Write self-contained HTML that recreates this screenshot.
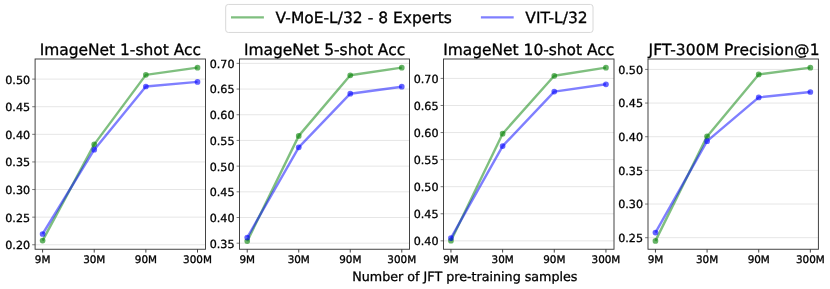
<!DOCTYPE html>
<html lang="en"><head><meta charset="utf-8"><title>V-MoE vs ViT few-shot</title>
<style>html,body{margin:0;padding:0;background:#fff;}text{stroke:#000;stroke-width:0.32px;text-rendering:geometricPrecision;}body{width:830px;height:289px;overflow:hidden;}</style>
</head><body>
<svg width="830" height="289" viewBox="0 0 830 289" style="display:block;font-family:'DejaVu Sans', 'Liberation Sans', sans-serif">
<rect width="830" height="289" fill="#fff"/>
<rect x="225.7" y="4.45" width="367.3" height="28.0" rx="2.6" fill="#fff" stroke="#d8d8d8" stroke-width="1"/>
<line x1="231" y1="17.4" x2="263.9" y2="17.4" stroke="#008000" stroke-opacity="0.5" stroke-width="2.4"/>
<text x="275.60" y="22.90" font-size="15.5">V-MoE-L/32 - 8 Experts</text>
<line x1="480.9" y1="17.4" x2="513.7" y2="17.4" stroke="#0000ff" stroke-opacity="0.5" stroke-width="2.4"/>
<text x="525.30" y="22.90" font-size="15.5">VIT-L/32</text>
<g>
<line x1="35.10" y1="79.12" x2="205.50" y2="79.12" stroke="#e6e6e6" stroke-width="1.0"/>
<line x1="35.10" y1="106.73" x2="205.50" y2="106.73" stroke="#e6e6e6" stroke-width="1.0"/>
<line x1="35.10" y1="134.33" x2="205.50" y2="134.33" stroke="#e6e6e6" stroke-width="1.0"/>
<line x1="35.10" y1="161.94" x2="205.50" y2="161.94" stroke="#e6e6e6" stroke-width="1.0"/>
<line x1="35.10" y1="189.54" x2="205.50" y2="189.54" stroke="#e6e6e6" stroke-width="1.0"/>
<line x1="35.10" y1="217.15" x2="205.50" y2="217.15" stroke="#e6e6e6" stroke-width="1.0"/>
<line x1="35.10" y1="244.75" x2="205.50" y2="244.75" stroke="#e6e6e6" stroke-width="1.0"/>
<polyline points="42.60,240.60 94.23,144.40 145.87,74.85 197.50,67.65" fill="none" stroke="#008000" stroke-opacity="0.5" stroke-width="2.4" stroke-linejoin="round"/>
<circle cx="42.60" cy="240.60" r="2.85" fill="#008000" fill-opacity="0.6"/>
<circle cx="94.23" cy="144.40" r="2.85" fill="#008000" fill-opacity="0.6"/>
<circle cx="145.87" cy="74.85" r="2.85" fill="#008000" fill-opacity="0.6"/>
<circle cx="197.50" cy="67.65" r="2.85" fill="#008000" fill-opacity="0.6"/>
<polyline points="42.60,234.00 94.23,149.70 145.87,86.50 197.50,81.90" fill="none" stroke="#0000ff" stroke-opacity="0.5" stroke-width="2.4" stroke-linejoin="round"/>
<circle cx="42.60" cy="234.00" r="2.85" fill="#0000ff" fill-opacity="0.6"/>
<circle cx="94.23" cy="149.70" r="2.85" fill="#0000ff" fill-opacity="0.6"/>
<circle cx="145.87" cy="86.50" r="2.85" fill="#0000ff" fill-opacity="0.6"/>
<circle cx="197.50" cy="81.90" r="2.85" fill="#0000ff" fill-opacity="0.6"/>
<rect x="35.10" y="59.0" width="170.4" height="190.25" fill="none" stroke="#3a3a3a" stroke-width="0.95"/>
<line x1="32.20" y1="79.12" x2="35.10" y2="79.12" stroke="#3a3a3a" stroke-width="0.85" stroke-opacity="0.8"/>
<text x="30.10" y="84.00" font-size="11.15" text-anchor="end">0.50</text>
<line x1="32.20" y1="106.73" x2="35.10" y2="106.73" stroke="#3a3a3a" stroke-width="0.85" stroke-opacity="0.8"/>
<text x="30.10" y="111.00" font-size="11.15" text-anchor="end">0.45</text>
<line x1="32.20" y1="134.33" x2="35.10" y2="134.33" stroke="#3a3a3a" stroke-width="0.85" stroke-opacity="0.8"/>
<text x="30.10" y="139.00" font-size="11.15" text-anchor="end">0.40</text>
<line x1="32.20" y1="161.94" x2="35.10" y2="161.94" stroke="#3a3a3a" stroke-width="0.85" stroke-opacity="0.8"/>
<text x="30.10" y="166.00" font-size="11.15" text-anchor="end">0.35</text>
<line x1="32.20" y1="189.54" x2="35.10" y2="189.54" stroke="#3a3a3a" stroke-width="0.85" stroke-opacity="0.8"/>
<text x="30.10" y="194.00" font-size="11.15" text-anchor="end">0.30</text>
<line x1="32.20" y1="217.15" x2="35.10" y2="217.15" stroke="#3a3a3a" stroke-width="0.85" stroke-opacity="0.8"/>
<text x="30.10" y="222.00" font-size="11.15" text-anchor="end">0.25</text>
<line x1="32.20" y1="244.75" x2="35.10" y2="244.75" stroke="#3a3a3a" stroke-width="0.85" stroke-opacity="0.8"/>
<text x="30.10" y="249.00" font-size="11.15" text-anchor="end">0.20</text>
<line x1="42.60" y1="249.25" x2="42.60" y2="252.55" stroke="#3a3a3a" stroke-width="0.95"/>
<text x="42.60" y="263.00" font-size="10.4" text-anchor="middle">9M</text>
<line x1="94.23" y1="249.25" x2="94.23" y2="252.55" stroke="#3a3a3a" stroke-width="0.95"/>
<text x="94.23" y="263.00" font-size="10.4" text-anchor="middle">30M</text>
<line x1="145.87" y1="249.25" x2="145.87" y2="252.55" stroke="#3a3a3a" stroke-width="0.95"/>
<text x="145.87" y="263.00" font-size="10.4" text-anchor="middle">90M</text>
<line x1="197.50" y1="249.25" x2="197.50" y2="252.55" stroke="#3a3a3a" stroke-width="0.95"/>
<text x="197.50" y="263.00" font-size="10.4" text-anchor="middle">300M</text>
<text x="120.30" y="55.00" font-size="15.45" text-anchor="middle">ImageNet 1-shot Acc</text>
</g>
<g>
<line x1="239.50" y1="63.36" x2="409.50" y2="63.36" stroke="#e6e6e6" stroke-width="1.0"/>
<line x1="239.50" y1="89.05" x2="409.50" y2="89.05" stroke="#e6e6e6" stroke-width="1.0"/>
<line x1="239.50" y1="114.74" x2="409.50" y2="114.74" stroke="#e6e6e6" stroke-width="1.0"/>
<line x1="239.50" y1="140.43" x2="409.50" y2="140.43" stroke="#e6e6e6" stroke-width="1.0"/>
<line x1="239.50" y1="166.13" x2="409.50" y2="166.13" stroke="#e6e6e6" stroke-width="1.0"/>
<line x1="239.50" y1="191.82" x2="409.50" y2="191.82" stroke="#e6e6e6" stroke-width="1.0"/>
<line x1="239.50" y1="217.51" x2="409.50" y2="217.51" stroke="#e6e6e6" stroke-width="1.0"/>
<line x1="239.50" y1="243.20" x2="409.50" y2="243.20" stroke="#e6e6e6" stroke-width="1.0"/>
<polyline points="247.23,241.10 298.74,135.90 350.26,75.30 401.77,67.65" fill="none" stroke="#008000" stroke-opacity="0.5" stroke-width="2.4" stroke-linejoin="round"/>
<circle cx="247.23" cy="241.10" r="2.85" fill="#008000" fill-opacity="0.6"/>
<circle cx="298.74" cy="135.90" r="2.85" fill="#008000" fill-opacity="0.6"/>
<circle cx="350.26" cy="75.30" r="2.85" fill="#008000" fill-opacity="0.6"/>
<circle cx="401.77" cy="67.65" r="2.85" fill="#008000" fill-opacity="0.6"/>
<polyline points="247.23,237.50 298.74,147.30 350.26,93.70 401.77,86.70" fill="none" stroke="#0000ff" stroke-opacity="0.5" stroke-width="2.4" stroke-linejoin="round"/>
<circle cx="247.23" cy="237.50" r="2.85" fill="#0000ff" fill-opacity="0.6"/>
<circle cx="298.74" cy="147.30" r="2.85" fill="#0000ff" fill-opacity="0.6"/>
<circle cx="350.26" cy="93.70" r="2.85" fill="#0000ff" fill-opacity="0.6"/>
<circle cx="401.77" cy="86.70" r="2.85" fill="#0000ff" fill-opacity="0.6"/>
<rect x="239.50" y="59.0" width="170.0" height="190.25" fill="none" stroke="#3a3a3a" stroke-width="0.95"/>
<line x1="236.60" y1="63.36" x2="239.50" y2="63.36" stroke="#3a3a3a" stroke-width="0.85" stroke-opacity="0.8"/>
<text x="234.50" y="68.00" font-size="11.15" text-anchor="end">0.70</text>
<line x1="236.60" y1="89.05" x2="239.50" y2="89.05" stroke="#3a3a3a" stroke-width="0.85" stroke-opacity="0.8"/>
<text x="234.50" y="93.00" font-size="11.15" text-anchor="end">0.65</text>
<line x1="236.60" y1="114.74" x2="239.50" y2="114.74" stroke="#3a3a3a" stroke-width="0.85" stroke-opacity="0.8"/>
<text x="234.50" y="119.00" font-size="11.15" text-anchor="end">0.60</text>
<line x1="236.60" y1="140.43" x2="239.50" y2="140.43" stroke="#3a3a3a" stroke-width="0.85" stroke-opacity="0.8"/>
<text x="234.50" y="145.00" font-size="11.15" text-anchor="end">0.55</text>
<line x1="236.60" y1="166.13" x2="239.50" y2="166.13" stroke="#3a3a3a" stroke-width="0.85" stroke-opacity="0.8"/>
<text x="234.50" y="171.00" font-size="11.15" text-anchor="end">0.50</text>
<line x1="236.60" y1="191.82" x2="239.50" y2="191.82" stroke="#3a3a3a" stroke-width="0.85" stroke-opacity="0.8"/>
<text x="234.50" y="196.00" font-size="11.15" text-anchor="end">0.45</text>
<line x1="236.60" y1="217.51" x2="239.50" y2="217.51" stroke="#3a3a3a" stroke-width="0.85" stroke-opacity="0.8"/>
<text x="234.50" y="222.00" font-size="11.15" text-anchor="end">0.40</text>
<line x1="236.60" y1="243.20" x2="239.50" y2="243.20" stroke="#3a3a3a" stroke-width="0.85" stroke-opacity="0.8"/>
<text x="234.50" y="248.00" font-size="11.15" text-anchor="end">0.35</text>
<line x1="247.23" y1="249.25" x2="247.23" y2="252.55" stroke="#3a3a3a" stroke-width="0.95"/>
<text x="247.23" y="263.00" font-size="10.4" text-anchor="middle">9M</text>
<line x1="298.74" y1="249.25" x2="298.74" y2="252.55" stroke="#3a3a3a" stroke-width="0.95"/>
<text x="298.74" y="263.00" font-size="10.4" text-anchor="middle">30M</text>
<line x1="350.26" y1="249.25" x2="350.26" y2="252.55" stroke="#3a3a3a" stroke-width="0.95"/>
<text x="350.26" y="263.00" font-size="10.4" text-anchor="middle">90M</text>
<line x1="401.77" y1="249.25" x2="401.77" y2="252.55" stroke="#3a3a3a" stroke-width="0.95"/>
<text x="401.77" y="263.00" font-size="10.4" text-anchor="middle">300M</text>
<text x="324.50" y="55.00" font-size="15.45" text-anchor="middle">ImageNet 5-shot Acc</text>
</g>
<g>
<line x1="443.50" y1="78.40" x2="614.00" y2="78.40" stroke="#e6e6e6" stroke-width="1.0"/>
<line x1="443.50" y1="105.48" x2="614.00" y2="105.48" stroke="#e6e6e6" stroke-width="1.0"/>
<line x1="443.50" y1="132.55" x2="614.00" y2="132.55" stroke="#e6e6e6" stroke-width="1.0"/>
<line x1="443.50" y1="159.62" x2="614.00" y2="159.62" stroke="#e6e6e6" stroke-width="1.0"/>
<line x1="443.50" y1="186.70" x2="614.00" y2="186.70" stroke="#e6e6e6" stroke-width="1.0"/>
<line x1="443.50" y1="213.78" x2="614.00" y2="213.78" stroke="#e6e6e6" stroke-width="1.0"/>
<line x1="443.50" y1="240.85" x2="614.00" y2="240.85" stroke="#e6e6e6" stroke-width="1.0"/>
<polyline points="450.95,240.70 502.62,133.70 554.28,75.80 605.95,67.65" fill="none" stroke="#008000" stroke-opacity="0.5" stroke-width="2.4" stroke-linejoin="round"/>
<circle cx="450.95" cy="240.70" r="2.85" fill="#008000" fill-opacity="0.6"/>
<circle cx="502.62" cy="133.70" r="2.85" fill="#008000" fill-opacity="0.6"/>
<circle cx="554.28" cy="75.80" r="2.85" fill="#008000" fill-opacity="0.6"/>
<circle cx="605.95" cy="67.65" r="2.85" fill="#008000" fill-opacity="0.6"/>
<polyline points="450.95,238.10 502.62,146.10 554.28,91.60 605.95,84.30" fill="none" stroke="#0000ff" stroke-opacity="0.5" stroke-width="2.4" stroke-linejoin="round"/>
<circle cx="450.95" cy="238.10" r="2.85" fill="#0000ff" fill-opacity="0.6"/>
<circle cx="502.62" cy="146.10" r="2.85" fill="#0000ff" fill-opacity="0.6"/>
<circle cx="554.28" cy="91.60" r="2.85" fill="#0000ff" fill-opacity="0.6"/>
<circle cx="605.95" cy="84.30" r="2.85" fill="#0000ff" fill-opacity="0.6"/>
<rect x="443.50" y="59.0" width="170.5" height="190.25" fill="none" stroke="#3a3a3a" stroke-width="0.95"/>
<line x1="440.60" y1="78.40" x2="443.50" y2="78.40" stroke="#3a3a3a" stroke-width="0.85" stroke-opacity="0.8"/>
<text x="438.50" y="83.00" font-size="11.15" text-anchor="end">0.70</text>
<line x1="440.60" y1="105.48" x2="443.50" y2="105.48" stroke="#3a3a3a" stroke-width="0.85" stroke-opacity="0.8"/>
<text x="438.50" y="110.00" font-size="11.15" text-anchor="end">0.65</text>
<line x1="440.60" y1="132.55" x2="443.50" y2="132.55" stroke="#3a3a3a" stroke-width="0.85" stroke-opacity="0.8"/>
<text x="438.50" y="137.00" font-size="11.15" text-anchor="end">0.60</text>
<line x1="440.60" y1="159.62" x2="443.50" y2="159.62" stroke="#3a3a3a" stroke-width="0.85" stroke-opacity="0.8"/>
<text x="438.50" y="164.00" font-size="11.15" text-anchor="end">0.55</text>
<line x1="440.60" y1="186.70" x2="443.50" y2="186.70" stroke="#3a3a3a" stroke-width="0.85" stroke-opacity="0.8"/>
<text x="438.50" y="191.00" font-size="11.15" text-anchor="end">0.50</text>
<line x1="440.60" y1="213.78" x2="443.50" y2="213.78" stroke="#3a3a3a" stroke-width="0.85" stroke-opacity="0.8"/>
<text x="438.50" y="218.00" font-size="11.15" text-anchor="end">0.45</text>
<line x1="440.60" y1="240.85" x2="443.50" y2="240.85" stroke="#3a3a3a" stroke-width="0.85" stroke-opacity="0.8"/>
<text x="438.50" y="245.00" font-size="11.15" text-anchor="end">0.40</text>
<line x1="450.95" y1="249.25" x2="450.95" y2="252.55" stroke="#3a3a3a" stroke-width="0.95"/>
<text x="450.95" y="263.00" font-size="10.4" text-anchor="middle">9M</text>
<line x1="502.62" y1="249.25" x2="502.62" y2="252.55" stroke="#3a3a3a" stroke-width="0.95"/>
<text x="502.62" y="263.00" font-size="10.4" text-anchor="middle">30M</text>
<line x1="554.28" y1="249.25" x2="554.28" y2="252.55" stroke="#3a3a3a" stroke-width="0.95"/>
<text x="554.28" y="263.00" font-size="10.4" text-anchor="middle">90M</text>
<line x1="605.95" y1="249.25" x2="605.95" y2="252.55" stroke="#3a3a3a" stroke-width="0.95"/>
<text x="605.95" y="263.00" font-size="10.4" text-anchor="middle">300M</text>
<text x="528.75" y="55.00" font-size="15.45" text-anchor="middle">ImageNet 10-shot Acc</text>
</g>
<g>
<line x1="648.00" y1="69.40" x2="818.40" y2="69.40" stroke="#e6e6e6" stroke-width="1.0"/>
<line x1="648.00" y1="103.06" x2="818.40" y2="103.06" stroke="#e6e6e6" stroke-width="1.0"/>
<line x1="648.00" y1="136.72" x2="818.40" y2="136.72" stroke="#e6e6e6" stroke-width="1.0"/>
<line x1="648.00" y1="170.38" x2="818.40" y2="170.38" stroke="#e6e6e6" stroke-width="1.0"/>
<line x1="648.00" y1="204.04" x2="818.40" y2="204.04" stroke="#e6e6e6" stroke-width="1.0"/>
<line x1="648.00" y1="237.70" x2="818.40" y2="237.70" stroke="#e6e6e6" stroke-width="1.0"/>
<polyline points="655.45,240.90 707.08,136.40 758.72,74.40 810.35,67.65" fill="none" stroke="#008000" stroke-opacity="0.5" stroke-width="2.4" stroke-linejoin="round"/>
<circle cx="655.45" cy="240.90" r="2.85" fill="#008000" fill-opacity="0.6"/>
<circle cx="707.08" cy="136.40" r="2.85" fill="#008000" fill-opacity="0.6"/>
<circle cx="758.72" cy="74.40" r="2.85" fill="#008000" fill-opacity="0.6"/>
<circle cx="810.35" cy="67.65" r="2.85" fill="#008000" fill-opacity="0.6"/>
<polyline points="655.45,232.60 707.08,141.20 758.72,97.40 810.35,92.00" fill="none" stroke="#0000ff" stroke-opacity="0.5" stroke-width="2.4" stroke-linejoin="round"/>
<circle cx="655.45" cy="232.60" r="2.85" fill="#0000ff" fill-opacity="0.6"/>
<circle cx="707.08" cy="141.20" r="2.85" fill="#0000ff" fill-opacity="0.6"/>
<circle cx="758.72" cy="97.40" r="2.85" fill="#0000ff" fill-opacity="0.6"/>
<circle cx="810.35" cy="92.00" r="2.85" fill="#0000ff" fill-opacity="0.6"/>
<rect x="648.00" y="59.0" width="170.39999999999998" height="190.25" fill="none" stroke="#3a3a3a" stroke-width="0.95"/>
<line x1="645.10" y1="69.40" x2="648.00" y2="69.40" stroke="#3a3a3a" stroke-width="0.85" stroke-opacity="0.8"/>
<text x="643.00" y="74.00" font-size="11.15" text-anchor="end">0.50</text>
<line x1="645.10" y1="103.06" x2="648.00" y2="103.06" stroke="#3a3a3a" stroke-width="0.85" stroke-opacity="0.8"/>
<text x="643.00" y="107.00" font-size="11.15" text-anchor="end">0.45</text>
<line x1="645.10" y1="136.72" x2="648.00" y2="136.72" stroke="#3a3a3a" stroke-width="0.85" stroke-opacity="0.8"/>
<text x="643.00" y="141.00" font-size="11.15" text-anchor="end">0.40</text>
<line x1="645.10" y1="170.38" x2="648.00" y2="170.38" stroke="#3a3a3a" stroke-width="0.85" stroke-opacity="0.8"/>
<text x="643.00" y="175.00" font-size="11.15" text-anchor="end">0.35</text>
<line x1="645.10" y1="204.04" x2="648.00" y2="204.04" stroke="#3a3a3a" stroke-width="0.85" stroke-opacity="0.8"/>
<text x="643.00" y="208.00" font-size="11.15" text-anchor="end">0.30</text>
<line x1="645.10" y1="237.70" x2="648.00" y2="237.70" stroke="#3a3a3a" stroke-width="0.85" stroke-opacity="0.8"/>
<text x="643.00" y="242.00" font-size="11.15" text-anchor="end">0.25</text>
<line x1="655.45" y1="249.25" x2="655.45" y2="252.55" stroke="#3a3a3a" stroke-width="0.95"/>
<text x="655.45" y="263.00" font-size="10.4" text-anchor="middle">9M</text>
<line x1="707.08" y1="249.25" x2="707.08" y2="252.55" stroke="#3a3a3a" stroke-width="0.95"/>
<text x="707.08" y="263.00" font-size="10.4" text-anchor="middle">30M</text>
<line x1="758.72" y1="249.25" x2="758.72" y2="252.55" stroke="#3a3a3a" stroke-width="0.95"/>
<text x="758.72" y="263.00" font-size="10.4" text-anchor="middle">90M</text>
<line x1="810.35" y1="249.25" x2="810.35" y2="252.55" stroke="#3a3a3a" stroke-width="0.95"/>
<text x="810.35" y="263.00" font-size="10.4" text-anchor="middle">300M</text>
<text x="734.10" y="55.00" font-size="15.45" text-anchor="middle" letter-spacing="0.12">JFT-300M Precision@1</text>
</g>
<text x="464.90" y="281.00" font-size="12.7" text-anchor="middle">Number of JFT pre-training samples</text>
</svg>
</body></html>
